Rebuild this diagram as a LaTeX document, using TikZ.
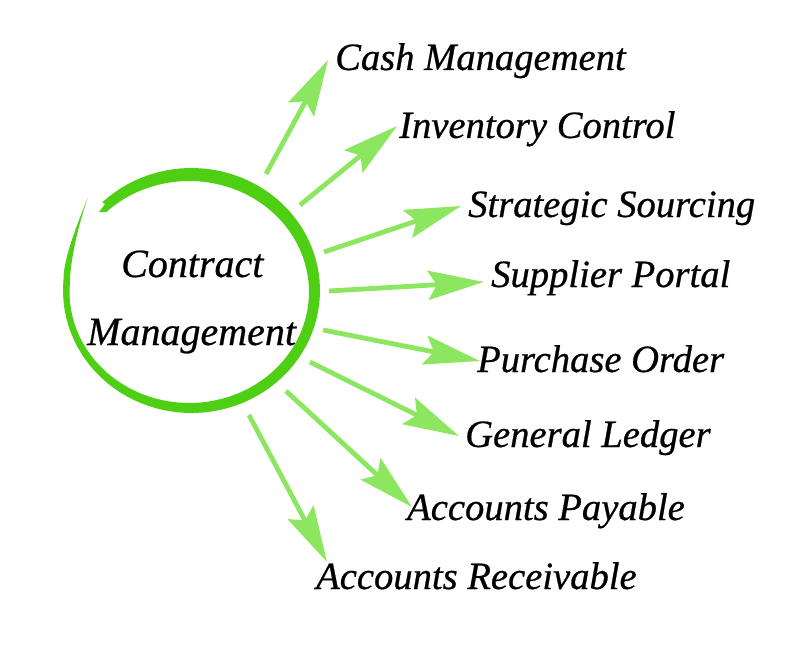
\documentclass[tikz,border=0pt]{standalone}
\usepackage{fontspec}
\setmainfont{Liberation Serif}
\newfontfamily\labfont[ItalicFeatures={FakeBold=0.6}]{Liberation Serif}
\usepackage{xcolor}
\usetikzlibrary{arrows.meta}
\definecolor{ringgreen}{HTML}{4FCF14}
\definecolor{arrowgreen}{HTML}{8CE65F}
\tikzset{
  ring/.style={fill=ringgreen},
  spoke/.style={draw=arrowgreen, line width=4.8pt, -{Stealth[length=56pt,width=29pt,inset=9pt]}},
  lab/.style={anchor=base west, inner sep=0pt, text=black, font=\labfont\fontsize{38.6}{42}\selectfont\itshape},
  hublab/.style={lab, font=\labfont\fontsize{40}{44}\selectfont\itshape},
}
\begin{document}
\begin{tikzpicture}[x=1pt,y=-1pt]
  \useasboundingbox (0,0) rectangle (800,647);

  % brush ring: thin tail, outer edge, frayed end, inner edge
  \fill[ring] (88,197) .. controls (74,232) and (63,262) .. (63.5,280)
    -- plot[domain=175:494,samples=90] ({191.5+128.5*cos(\x)},{290.5-122.5*sin(\x)})
    -- (105,204) -- (99,212)
    -- plot[domain=494:175,samples=90] ({189.25+119.75*cos(\x)},{292-111*sin(\x)})
    .. controls (70,265) and (76,232) .. (88,197) -- cycle;

  \node[hublab] (contract) at (121,277) {Contract};
  \node[hublab] (management) at (87,345) {Management};

  \node[lab] (cash) at (335,70) {Cash Management};
  \node[lab] (inventory) at (399,138) {Inventory Control};
  \node[lab] (sourcing) at (468,217) {Strategic Sourcing};
  \node[lab] (portal) at (491,287) {Supplier Portal};
  \node[lab] (order) at (477,372) {Purchase Order};
  \node[lab] (ledger) at (465,447) {General Ledger};
  \node[lab] (payable) at (407,520) {Accounts Payable};
  \node[lab] (receivable) at (316,589) {Accounts Receivable};

  \coordinate (s1) at (266,174); \coordinate (t1) at (328,60);
  \coordinate (s2) at (300,205); \coordinate (t2) at (397,126);
  \coordinate (s3) at (324,252); \coordinate (t3) at (461,206);
  \coordinate (s4) at (329,291); \coordinate (t4) at (484,282);
  \coordinate (s5) at (323,330); \coordinate (t5) at (480,361);
  \coordinate (s6) at (310,362); \coordinate (t6) at (459,436);
  \coordinate (s7) at (286,391); \coordinate (t7) at (412,507);
  \coordinate (s8) at (249,415); \coordinate (t8) at (327,562);

  \foreach \i in {1,...,8} {
    \draw[spoke] (s\i) -- (t\i);
  }
\end{tikzpicture}
\end{document}
